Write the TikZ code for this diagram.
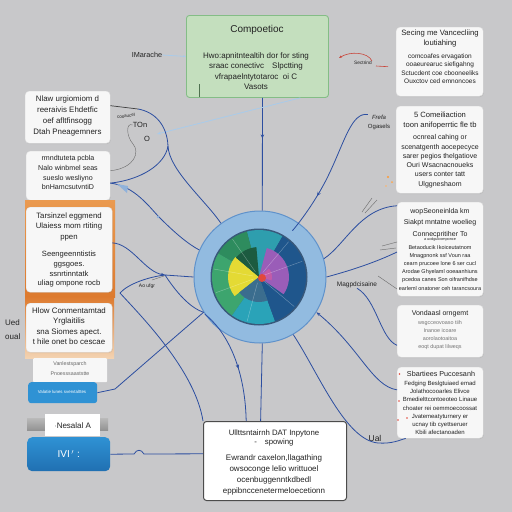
\documentclass[tikz,border=0pt]{standalone}
\usepackage{fontspec}
\setmainfont{Liberation Sans}
\usetikzlibrary{calc,arrows.meta,decorations.markings,shadows}
\definecolor{bgc}{HTML}{C8C8CA}
\definecolor{grfill}{HTML}{C4DFBE}
\definecolor{gredge}{HTML}{84BD86}
\definecolor{boxfill}{HTML}{F7F7F7}
\definecolor{boxedge}{HTML}{E2E2E2}
\definecolor{txt}{HTML}{222222}
\definecolor{lineblue}{HTML}{2C4EA0}
\definecolor{lightline}{HTML}{A9CBEA}
\definecolor{ringfill}{HTML}{92BBE0}
\definecolor{ringedge}{HTML}{5F92CB}
\definecolor{blueboxc}{HTML}{2F92D4}
\definecolor{blueboxd}{HTML}{2070B2}
\definecolor{orA}{HTML}{EA9A50}
\definecolor{orB}{HTML}{DD7A2E}
\definecolor{orC}{HTML}{F3D3B2}
\definecolor{redc}{HTML}{C8453A}
\definecolor{gline}{HTML}{6A6A6A}
\definecolor{tealA}{HTML}{2E9EAE}
\definecolor{greenB}{HTML}{2E8C5E}
\definecolor{greenA}{HTML}{3DA56E}
\definecolor{tealB}{HTML}{2AA3B8}
\definecolor{dblue}{HTML}{1F568C}
\definecolor{yel}{HTML}{E4DA34}
\definecolor{dgreen}{HTML}{1C5B40}
\definecolor{purp}{HTML}{9A5DB8}
\definecolor{slate}{HTML}{3B6D8E}
\definecolor{magen}{HTML}{C25BA8}
\definecolor{redm}{HTML}{E2483B}
\newcommand\myfs[2]{\fontsize{#1}{#2}\selectfont}
\newcommand\wedgeP[4]{\fill[#1] (0,0) -- (#2:#4) arc[start angle=#2, end angle=#3, radius=#4] -- cycle;}
\begin{document}
\begin{tikzpicture}[x=1pt,y=-1pt,
 wbox/.style={draw=boxedge, line width=0.4pt, fill=boxfill, rounded corners=4pt, inner sep=0pt, anchor=north west, drop shadow={shadow xshift=0.7pt, shadow yshift=-0.9pt, opacity=0.15}},
 tx/.style={inner sep=0pt, align=center, text=txt, anchor=north},
 lab/.style={inner sep=0pt, text=txt},
 conn/.style={draw=lineblue, line width=0.8pt},
 lconn/.style={draw=lightline, line width=0.8pt},
 gconn/.style={draw=gline, line width=0.4pt},
 midarrow/.style={postaction={decorate}, decoration={markings, mark=at position #1 with {\arrow{Stealth[length=4pt,width=3.5pt]}}}},
]
\fill[bgc] (0,0) rectangle (512,512);
\useasboundingbox (0,0) rectangle (512,512);

% ---------- boxes ----------
\node[draw=gredge, fill=grfill, line width=0.9pt, rounded corners=3pt, anchor=north west, minimum width=142pt, minimum height=82pt, inner sep=0pt] (gr) at (186,15) {};
\node[wbox, minimum width=87pt, minimum height=69pt] (rb1) at (396,27) {};
\node[wbox, minimum width=87pt, minimum height=87pt] (rb2) at (396,106) {};
\node[wbox, minimum width=86pt, minimum height=94pt] (rb3) at (397,202) {};
\node[wbox, minimum width=86pt, minimum height=52pt] (rb4) at (397,305) {};
\node[wbox, minimum width=86pt, minimum height=71pt] (rb5) at (397,367) {};
\node[wbox, minimum width=85pt, minimum height=52pt] (lb1) at (25,91) {};
\node[wbox, minimum width=84pt, minimum height=49pt] (lb2) at (26,151) {};
\node[anchor=north west, minimum width=90pt, minimum height=97pt, inner sep=0pt, top color=orA, bottom color=orB] (org1) at (25,200) {};
\node[anchor=north west, minimum width=89pt, minimum height=62pt, inner sep=0pt, top color=orB, bottom color=orC] (org2) at (25,296) {};
\node[wbox, minimum width=86pt, minimum height=85pt] (lob1) at (26,207) {};
\node[wbox, minimum width=86pt, minimum height=49pt] (lob2) at (26,303) {};
\node[anchor=north west, fill=boxfill, rounded corners=1pt, minimum width=74pt, minimum height=24pt, inner sep=0pt] (sw) at (33,358) {};
\node[anchor=north west, fill=blueboxc, rounded corners=3pt, minimum width=69pt, minimum height=21pt, inner sep=0pt] (bl1) at (28,382) {};
\node[anchor=north west, minimum width=81pt, minimum height=12pt, inner sep=0pt, top color=gray!55, bottom color=gray!85] (gbar) at (27,418) {};
\node[anchor=north west, fill=white, minimum width=55pt, minimum height=22pt, inner sep=0pt, font=\myfs{8}{9}, text=txt] (nes) at (45,414) {$\cdot$Nesalal A};
\node[anchor=north west, top color=blueboxc, bottom color=blueboxd, rounded corners=5pt, minimum width=83pt, minimum height=34pt, inner sep=0pt, font=\myfs{10}{11}, text=white] (bl2) at (27,437) {IVI\,$'$ :};
\node[anchor=north west, fill=white, draw=black!70, line width=1pt, rounded corners=3pt, minimum width=143pt, minimum height=79pt, inner sep=0pt] (bb) at (203,421) {};

% ---------- hub ----------
\node[circle, minimum size=132pt, fill=ringfill, draw=ringedge, line width=1pt, inner sep=0pt] (hub) at (260,277) {};
\begin{scope}[shift={(259,277)}, x=1pt, y=1pt]
 \fill[ringedge!60!black] (0,0) circle (48.5);
 \wedgeP{tealA}{60}{105}{47}
 \wedgeP{greenB}{105}{150}{47}
 \wedgeP{greenA}{150}{235}{47}
 \wedgeP{tealB}{235}{290}{47}
 \wedgeP{dblue}{290}{420}{47}
 \wedgeP{yel}{140}{218}{31}
 \wedgeP{dgreen}{95}{140}{30}
 \wedgeP{purp}{-35}{75}{30}
 \wedgeP{slate}{218}{290}{25}
 \wedgeP{magen}{-15}{40}{13}
 \fill[redm] (3,-1) circle (4);
 \foreach \a in {20,50,125,170,200,255,320}{\draw[white, opacity=0.35, line width=0.4pt] (\a:6) -- (\a:46);}
\end{scope}

% ---------- texts ----------
\node[lab, font=\myfs{10}{11}] (grt) at (257,30) {Compoetioc};
\node[tx, font=\myfs{8}{10.3}] (grb) at (256,52.5) {Hwo:apnitntealtih dor for sting\\ sraac conectivc\quad Slpctting\\ vfrapaelntytotaroc\ \ oi C\\ Vasots};

\node[tx, font=\myfs{7.7}{9.8}] (rb1t) at (440,29.5) {Secing me Vancecliing\\ loutiahing};
\node[tx, font=\myfs{6.5}{8.3}] (rb1b) at (440,53.5) {comcoafes ervagation\\ ooaeurearuc siefigahng\\ Sctucdent coe cbooneeliks\\ Ouxctov ced emnoncoes};

\node[tx, font=\myfs{7.6}{10}] (rb2t) at (440,112) {5 Comeiliaction\\ toon anifoperrtic fle tb};
\node[tx, font=\myfs{7}{9.3}] (rb2b) at (440,134.5) {ocnreal cahing or\\ scenatgenth aocepecyce\\ sarer pegios thelgatiove\\ Ouri Wsacnacnoueks\\ users conter tatt\\ Ulggneshaom};

\node[tx, font=\myfs{7}{11.5}] (rb3t) at (440,208) {wopSeoneinlda km\\ Siakpt mntatne woelieg\\ Connecpritiher To};
\node[lab, font=\myfs{3.8}{4}] (rb3s) at (440,240) {a ucdgulcomponce};
\node[tx, font=\myfs{5.5}{8.2}] (rb3b) at (440,245) {Betaoducik Ikoiceutatnom\\ Mnagpnonk ssf Voun raa\\ cearn prucoee lone 6 ser cucl\\ Arodae Ghyelaml ooeaanhiuns\\ pcedoa canes Son oifranifhdse\\ earleml onatoner ceh tarancsoura};

\node[lab, font=\myfs{7}{8}] (rb4t) at (440,314) {Vondaasl orngemt};
\node[tx, font=\myfs{5.4}{8}, text=black!55] (rb4b) at (440,320.5) {wsgcceovoaso tiih\\ Inanoe icoare\\ aorolaotoaitoa\\ eoqt dupat lilweqs};

\node[lab, font=\myfs{7.2}{8}] (rb5t) at (441,374) {Sbartiees Puccesanh};
\node[tx, font=\myfs{6}{8.2}] (rb5b) at (440,381) {Fedging Beslgtuiaed emad\\ Jolathocooarles Elivce\\ Bmedielttcontoeoteo Linaue\\ choater rei oemmoecoossat\\ Jvatemeatyturnery er\\ ucnay tib cyettseruer\\ Kbili afectanoaden};

\node[tx, font=\myfs{7.8}{9.5}] (bbt) at (274,429.5) {Ullttsntairnh DAT Inpytone\\ -\quad spowing};
\node[tx, font=\myfs{8}{11}] (bbb) at (274,454) {Ewrandr caxelon,llagathing\\ owsoconge lelio writtuoel\\ ocenbuggenntkdbedl\\ eppibnccenetermeloecetionn};

\node[tx, font=\myfs{7.9}{11}] (lb1t) at (67.5,96) {Nlaw urgiomiom d\\ reeraivis Ehdetfic\\ oef afltfinsogg\\ Dtah Pneagemners};
\node[tx, font=\myfs{7.1}{9.7}] (lb2t) at (68,155.5) {rmndtuteta pcbla\\ Nalo winbmel seas\\ sueslo wesliyno\\ bnHamcsutvntiD};

\node[tx, font=\myfs{7.8}{10.5}] (lob1t) at (69,212.5) {Tarsinzel eggmend\\ Ulaiess mom rtiting\\ ppen};
\node[tx, font=\myfs{7.6}{9.7}] (lob1b) at (69,251) {Seengeenntistis\\ ggsgoes.\\ ssnrtinntatk\\ uliag ompone rocb};
\node[tx, font=\myfs{7.9}{10.5}] (lob2t) at (69,307.5) {Hlow Conmentamtad\\ Yrglaitilis\\ sna Siomes apect.\\ t hile onet bo cescae};
\node[tx, font=\myfs{5.3}{9.5}, text=black!60] (swt) at (70,361.5) {Vanlestsparch\\ Pnoesssaaststte};
\node[lab, font=\myfs{4.4}{5}, text=white] (bl1t) at (62,392) {Valatie lunes svervtalttes};

% labels
\node[lab, font=\myfs{7.3}{8}] (ima) at (147,55) {IMarache};
\node[lab, font=\myfs{7.5}{8}] (tlab) at (140,125) {TOn};
\node[lab, font=\myfs{7.5}{8}] (olab) at (147,139) {O};
\node[lab, font=\myfs{4.5}{5}, rotate=8] (coo) at (126,116) {cooaucel};
\node[lab, font=\myfs{5}{6}] (aof) at (147,286) {Ao ufgr};
\node[lab, font=\myfs{6}{9}, align=center] (fr) at (379,122) {\textit{Frefa}\\ Ogasels};
\node[lab, font=\myfs{4.8}{5}] (sect) at (363,63) {Sectrind};
\node[lab, font=\myfs{6.5}{7}] (mag) at (357,285) {Magpdcisaine};
\node[lab, font=\myfs{8.5}{9}] (ual) at (375,438) {Ual};
\node[lab, font=\myfs{8}{14}, align=left, anchor=west] (ued) at (5,330) {Ued\\ oual};

% ---------- connectors ----------
\coordinate (a0) at (138,109);
\coordinate (j1) at (168,146);
\coordinate (oj) at (157,134);
\coordinate (ar1) at (165,275);
\coordinate (j2) at (120,293);
\coordinate (rt) at (339,58);

\draw[conn, midarrow=0.36] ($(gr.south west)!0.535!(gr.south east)$) -- (hub.88);
\draw[lconn, -{Stealth[length=4pt]}] ($(gr.south west)!0.8!(gr.south east)$) -- (oj);
\draw[lconn, -{Stealth[length=3pt]}] (ima.east) -- (gr.west);
\draw[gline!60!black, line width=0.7pt] ($(lb1.north east)!0.28!(lb1.south east)$) -- (a0);
\draw[conn] (a0) .. controls (155,112) and (167,125) .. (j1) .. controls (169,170) and (205,200) .. (hub.126);
\draw[conn] ($(lb2.north east)!0.65!(lb2.south east)$) .. controls (140,180) and (165,165) .. (j1);
\draw[gconn] ($(lb2.north east)!0.4!(lb2.south east)$) .. controls (135,168) and (140,152) .. (133,144) .. controls (126,136) and (126,122) .. (tlab.west);
\draw[conn] ($(lb2.north east)!0.65!(lb2.south east)$) .. controls (135,186) and (150,208) .. (160,218) .. controls (175,233) and (188,244) .. (hub.156);
\fill[lightline!80!lineblue] (117,184) -- (128,186) -- (127,193) -- cycle;
\fill[lightline!80!lineblue] (158,217) circle (1.3);
\draw[conn, -{Stealth[length=4pt]}] ($(lob1.north east)!0.42!(lob1.south east)$) .. controls (132,244) and (145,272) .. (ar1);
\draw[conn] (ar1) -- (hub.180);
\draw[conn] (j2) .. controls (128,284) and (148,277) .. (ar1);
\draw[conn] (j2) .. controls (140,315) and (195,370) .. (bb.north west);
\draw[conn] (bl1.east) -- (115,389) -- (hub.212);
\draw[conn] (ar1) .. controls (176,292) and (190,308) .. (hub.212);
\draw[conn, midarrow=0.55] (hub.214) .. controls (225,330) and (245,365) .. ($(bb.north west)!0.3!(bb.north east)$);
\draw[conn] (hub.272) -- ($(bb.north west)!0.4!(bb.north east)$);
\draw[conn] (bl2.east) -- (134,454) .. controls (137,449) and (141,449) .. (144,454) -- ($(bb.north west)!0.41!(bb.south west)$);
\draw[conn, midarrow=0.7] (fr.north west) .. controls (352,112) and (345,140) .. (330,172) .. controls (318,198) and (300,222) .. ($(hub.center)!0.85!(hub.55)$);
\draw[conn] (hub.16) .. controls (345,245) and (360,208) .. ($(rb3.north west)!0.04!(rb3.south west)$);
\draw[conn] (hub.0) .. controls (345,272) and (372,264) .. ($(rb3.north west)!0.53!(rb3.south west)$);
\draw[conn] (mag.south) .. controls (377,300) and (380,338) .. ($(rb4.north west)!0.77!(rb4.south west)$);
\draw[conn, -{Stealth[length=4pt]}] ($(rb5.north west)!0.32!(rb5.south west)$) .. controls (372,386) and (360,348) .. (hub.328);
\draw[conn] (hub.300) .. controls (318,372) and (345,440) .. (378,443) .. controls (392,444) and (400,440) .. ($(rb5.south west)!0.1!(rb5.south east)$);
\draw[redc, line width=0.6pt, -{Stealth[length=3pt]}] (sect.north east) .. controls (368,52) and (350,51) .. (rt);
\draw[redc, line width=0.6pt] ($(sect.east)+(4,3)$) -- ($(rb1.west)+(-8,5)$);

% small strokes
\draw[gredge!60!black, line width=0.5pt] (199,84) -- (199,97);
\draw[gconn] (362,212) -- (372,198);
\draw[gconn] (365,213) -- (377,200);
\draw[gconn] (382,246) -- (397,242);
\draw[gconn] (380,250) -- (396,248);
\draw[gconn] (378,276) -- (397,289);
\draw[gconn] (152,280) -- (164,276);
\fill[orange!80] (388,177) circle (1.2);
\fill[orange!70] (392,182) circle (1);
\fill[orange!60] (386,186) circle (0.8);
\foreach \p in {(399.5,374),(399,401),(398,420),(407,418)}{\fill[redm] \p circle (0.8);}
\end{tikzpicture}
\end{document}
